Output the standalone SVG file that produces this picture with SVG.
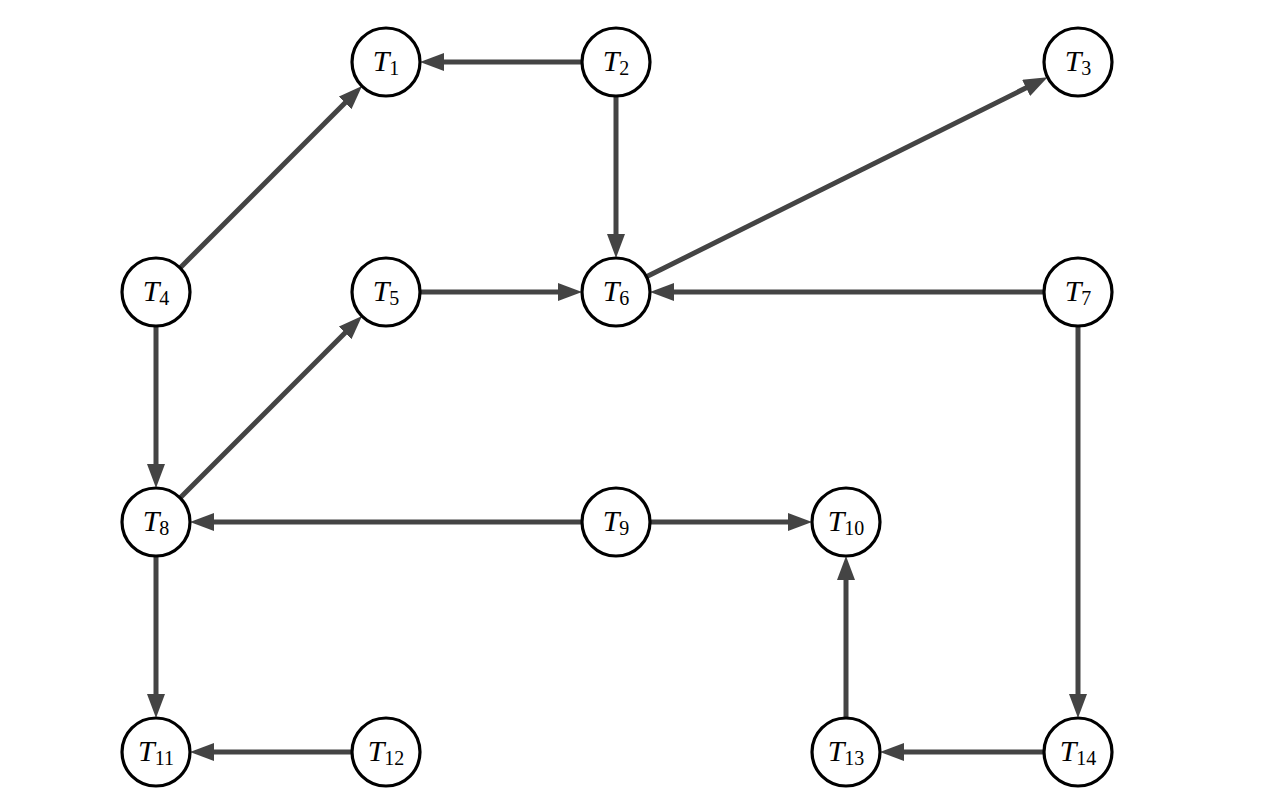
<svg xmlns="http://www.w3.org/2000/svg" width="1284" height="804" viewBox="0 0 1284 804">
<style>
.node circle{fill:#fff;stroke:#000;stroke-width:3.2}
.node text{font-family:"Liberation Serif","DejaVu Serif",serif;font-size:30px;font-style:italic;text-anchor:middle}
.node tspan{font-style:normal;font-size:20px}
.edge{stroke:#444;stroke-width:5;fill:none;marker-end:url(#arr)}
</style>
<defs>
<marker id="arr" markerUnits="userSpaceOnUse" markerWidth="26" markerHeight="20" refX="4" refY="9" orient="auto">
<path d="M0,0 L24,9 L0,18 z" fill="#444"/>
</marker>
</defs>
<rect width="1284" height="804" fill="#fff"/>
<g id="connectors">
<line class="edge" x1="582" y1="62" x2="440" y2="62"/>
<line class="edge" x1="616" y1="96" x2="616" y2="238"/>
<line class="edge" x1="180" y1="268" x2="347.9" y2="100.1"/>
<line class="edge" x1="646.4" y1="276.8" x2="1029.7" y2="86.1"/>
<line class="edge" x1="420" y1="292" x2="562" y2="292"/>
<line class="edge" x1="1044" y1="292" x2="670" y2="292"/>
<line class="edge" x1="156" y1="326" x2="156" y2="468"/>
<line class="edge" x1="180" y1="498" x2="347.9" y2="330.1"/>
<line class="edge" x1="582" y1="522" x2="210" y2="522"/>
<line class="edge" x1="650" y1="522" x2="792" y2="522"/>
<line class="edge" x1="156" y1="556" x2="156" y2="698"/>
<line class="edge" x1="352" y1="752" x2="210" y2="752"/>
<line class="edge" x1="846" y1="718" x2="846" y2="576"/>
<line class="edge" x1="1078" y1="326" x2="1078" y2="698"/>
<line class="edge" x1="1044" y1="752" x2="900" y2="752"/>
</g>
<g id="T1" class="node"><circle cx="386" cy="62" r="34"/><text x="386" y="71">T<tspan dy="4">1</tspan></text></g>
<g id="T2" class="node"><circle cx="616" cy="62" r="34"/><text x="616" y="71">T<tspan dy="4">2</tspan></text></g>
<g id="T3" class="node"><circle cx="1078" cy="62" r="34"/><text x="1078" y="71">T<tspan dy="4">3</tspan></text></g>
<g id="T4" class="node"><circle cx="156" cy="292" r="34"/><text x="156" y="301">T<tspan dy="4">4</tspan></text></g>
<g id="T5" class="node"><circle cx="386" cy="292" r="34"/><text x="386" y="301">T<tspan dy="4">5</tspan></text></g>
<g id="T6" class="node"><circle cx="616" cy="292" r="34"/><text x="616" y="301">T<tspan dy="4">6</tspan></text></g>
<g id="T7" class="node"><circle cx="1078" cy="292" r="34"/><text x="1078" y="301">T<tspan dy="4">7</tspan></text></g>
<g id="T8" class="node"><circle cx="156" cy="522" r="34"/><text x="156" y="531">T<tspan dy="4">8</tspan></text></g>
<g id="T9" class="node"><circle cx="616" cy="522" r="34"/><text x="616" y="531">T<tspan dy="4">9</tspan></text></g>
<g id="T10" class="node"><circle cx="846" cy="522" r="34"/><text x="846" y="531">T<tspan dy="4">10</tspan></text></g>
<g id="T11" class="node"><circle cx="156" cy="752" r="34"/><text x="156" y="761">T<tspan dy="4">11</tspan></text></g>
<g id="T12" class="node"><circle cx="386" cy="752" r="34"/><text x="386" y="761">T<tspan dy="4">12</tspan></text></g>
<g id="T13" class="node"><circle cx="846" cy="752" r="34"/><text x="846" y="761">T<tspan dy="4">13</tspan></text></g>
<g id="T14" class="node"><circle cx="1078" cy="752" r="34"/><text x="1078" y="761">T<tspan dy="4">14</tspan></text></g>
</svg>
